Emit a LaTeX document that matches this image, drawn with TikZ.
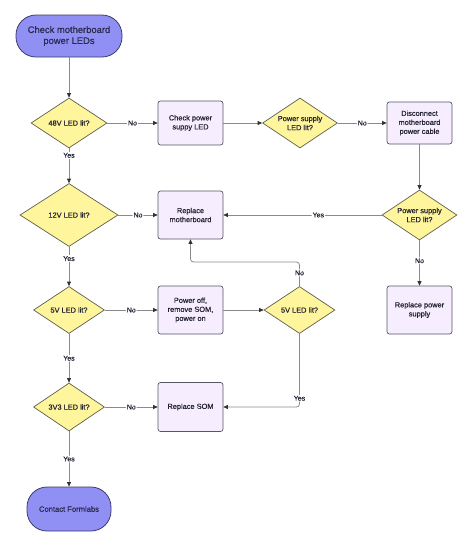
\documentclass[tikz,border=0pt]{standalone}
\usepackage{fontspec}
\setmainfont{Liberation Sans}[BoldFont={Liberation Sans}, BoldFeatures={FakeBold=0.35}]
\usetikzlibrary{shapes.geometric,arrows.meta}
\definecolor{termfill}{HTML}{8F8FF4}
\definecolor{termdraw}{HTML}{3C3C6E}
\definecolor{decfill}{HTML}{FFF59C}
\definecolor{decdraw}{HTML}{5E5E4E}
\definecolor{boxfill}{HTML}{F6EEFF}
\definecolor{boxdraw}{HTML}{555566}
\definecolor{linecol}{HTML}{8A8A8A}
\definecolor{tipcol}{HTML}{333333}
\definecolor{txtcol}{HTML}{222233}
\tikzset{
  term/.style={draw=termdraw, fill=termfill, line width=0.8pt, rounded corners=20pt,
    minimum width=#1, minimum height=42pt, inner sep=0pt, align=center,
    font=\fontsize{9.4}{11}\selectfont\bfseries, text=termdraw!70!black},
  dec/.style={draw=decdraw, fill=decfill, line width=0.7pt, diamond, aspect=1.5,
    inner sep=0pt, align=center, font=\fontsize{7.4}{9}\selectfont\bfseries, text=txtcol},
  procbox/.style={draw=boxdraw, fill=boxfill, line width=0.7pt, rounded corners=2.5pt,
    minimum width=65pt, inner sep=0pt, align=center,
    font=\fontsize{7.4}{9}\selectfont\bfseries, text=txtcol},
  conn/.style={draw=linecol, line width=0.8pt, rounded corners=3pt,
    -{Triangle[length=4.5pt,width=4pt,color=tipcol]}},
  lbl/.style={fill=white, inner sep=1pt, font=\fontsize{7}{8}\selectfont\bfseries, text=txtcol}
}
\begin{document}
\begin{tikzpicture}[x=1pt,y=1pt]
\useasboundingbox (0,0) rectangle (474,-547);
% terminals
\node[term=106pt] (start) at (69,-36) {Check motherboard\\power LEDs};
\node[term=84pt, minimum height=44pt, font=\fontsize{7.6}{9}\selectfont\bfseries] (contact) at (69,-509) {Contact Formlabs};
% decisions
\node[dec, minimum width=76pt, minimum height=50pt] (d48) at (69,-123) {48V LED lit?};
\node[dec, minimum width=98pt, minimum height=63pt] (d12) at (69,-215) {12V LED lit?};
\node[dec, minimum width=71pt, minimum height=47pt] (d5) at (69,-310) {5V LED lit?};
\node[dec, minimum width=71pt, minimum height=48pt] (d3) at (69,-407) {3V3 LED lit?};
\node[dec, minimum width=75pt, minimum height=50pt] (ps1) at (300,-123) {Power supply\\LED lit?};
\node[dec, minimum width=75pt, minimum height=50pt] (ps2) at (419.5,-215) {Power supply\\LED lit?};
\node[dec, minimum width=71pt, minimum height=47pt] (d5r) at (299.5,-310) {5V LED lit?};
% process boxes
\node[procbox, minimum height=44pt] (check) at (190.5,-123) {Check power\\suppy LED};
\node[procbox, minimum height=42pt] (disc) at (419.5,-123) {Disconnect\\motherboard\\power cable};
\node[procbox, minimum height=48pt] (repmb) at (190.5,-215) {Replace\\motherboard};
\node[procbox, minimum height=48pt] (poff) at (190.5,-310) {Power off,\\remove SOM,\\power on};
\node[procbox, minimum height=48pt] (reppsu) at (419.5,-310) {Replace power\\supply};
\node[procbox, minimum height=49pt] (repsom) at (190.5,-407) {Replace SOM};
% waypoints
\coordinate (upA) at (299.5,-262);
\coordinate (upB) at (190.5,-262);
\coordinate (dnA) at (299.5,-407);
% connectors
\draw[conn] (start) -- (d48);
\draw[conn] (d48) -- node[lbl]{No} (check);
\draw[conn] (check) -- (ps1);
\draw[conn] (ps1) -- node[lbl]{No} (disc);
\draw[conn] (disc) -- (ps2);
\draw[conn] (ps2) -- node[lbl, pos=0.4]{Yes} (repmb);
\draw[conn] (ps2) -- node[lbl, pos=0.45]{No} (reppsu);
\draw[conn] (d48) -- node[lbl, pos=0.2]{Yes} (d12);
\draw[conn] (d12) -- node[lbl]{No} (repmb);
\draw[conn] (d12) -- node[lbl, pos=0.3]{Yes} (d5);
\draw[conn] (d5) -- node[lbl]{No} (poff);
\draw[conn] (poff) -- (d5r);
\draw[conn] (d5r.north) -- node[lbl, pos=0.55]{No} (upA) -- (upB) -- (repmb.south);
\draw[conn] (d5) -- node[lbl, pos=0.5]{Yes} (d3);
\draw[conn] (d3) -- node[lbl]{No} (repsom);
\draw[conn] (d5r.south) -- node[lbl, pos=0.88]{Yes} (dnA) -- (repsom.east);
\draw[conn] (d3) -- node[lbl, pos=0.5]{Yes} (contact);
\end{tikzpicture}
\end{document}
